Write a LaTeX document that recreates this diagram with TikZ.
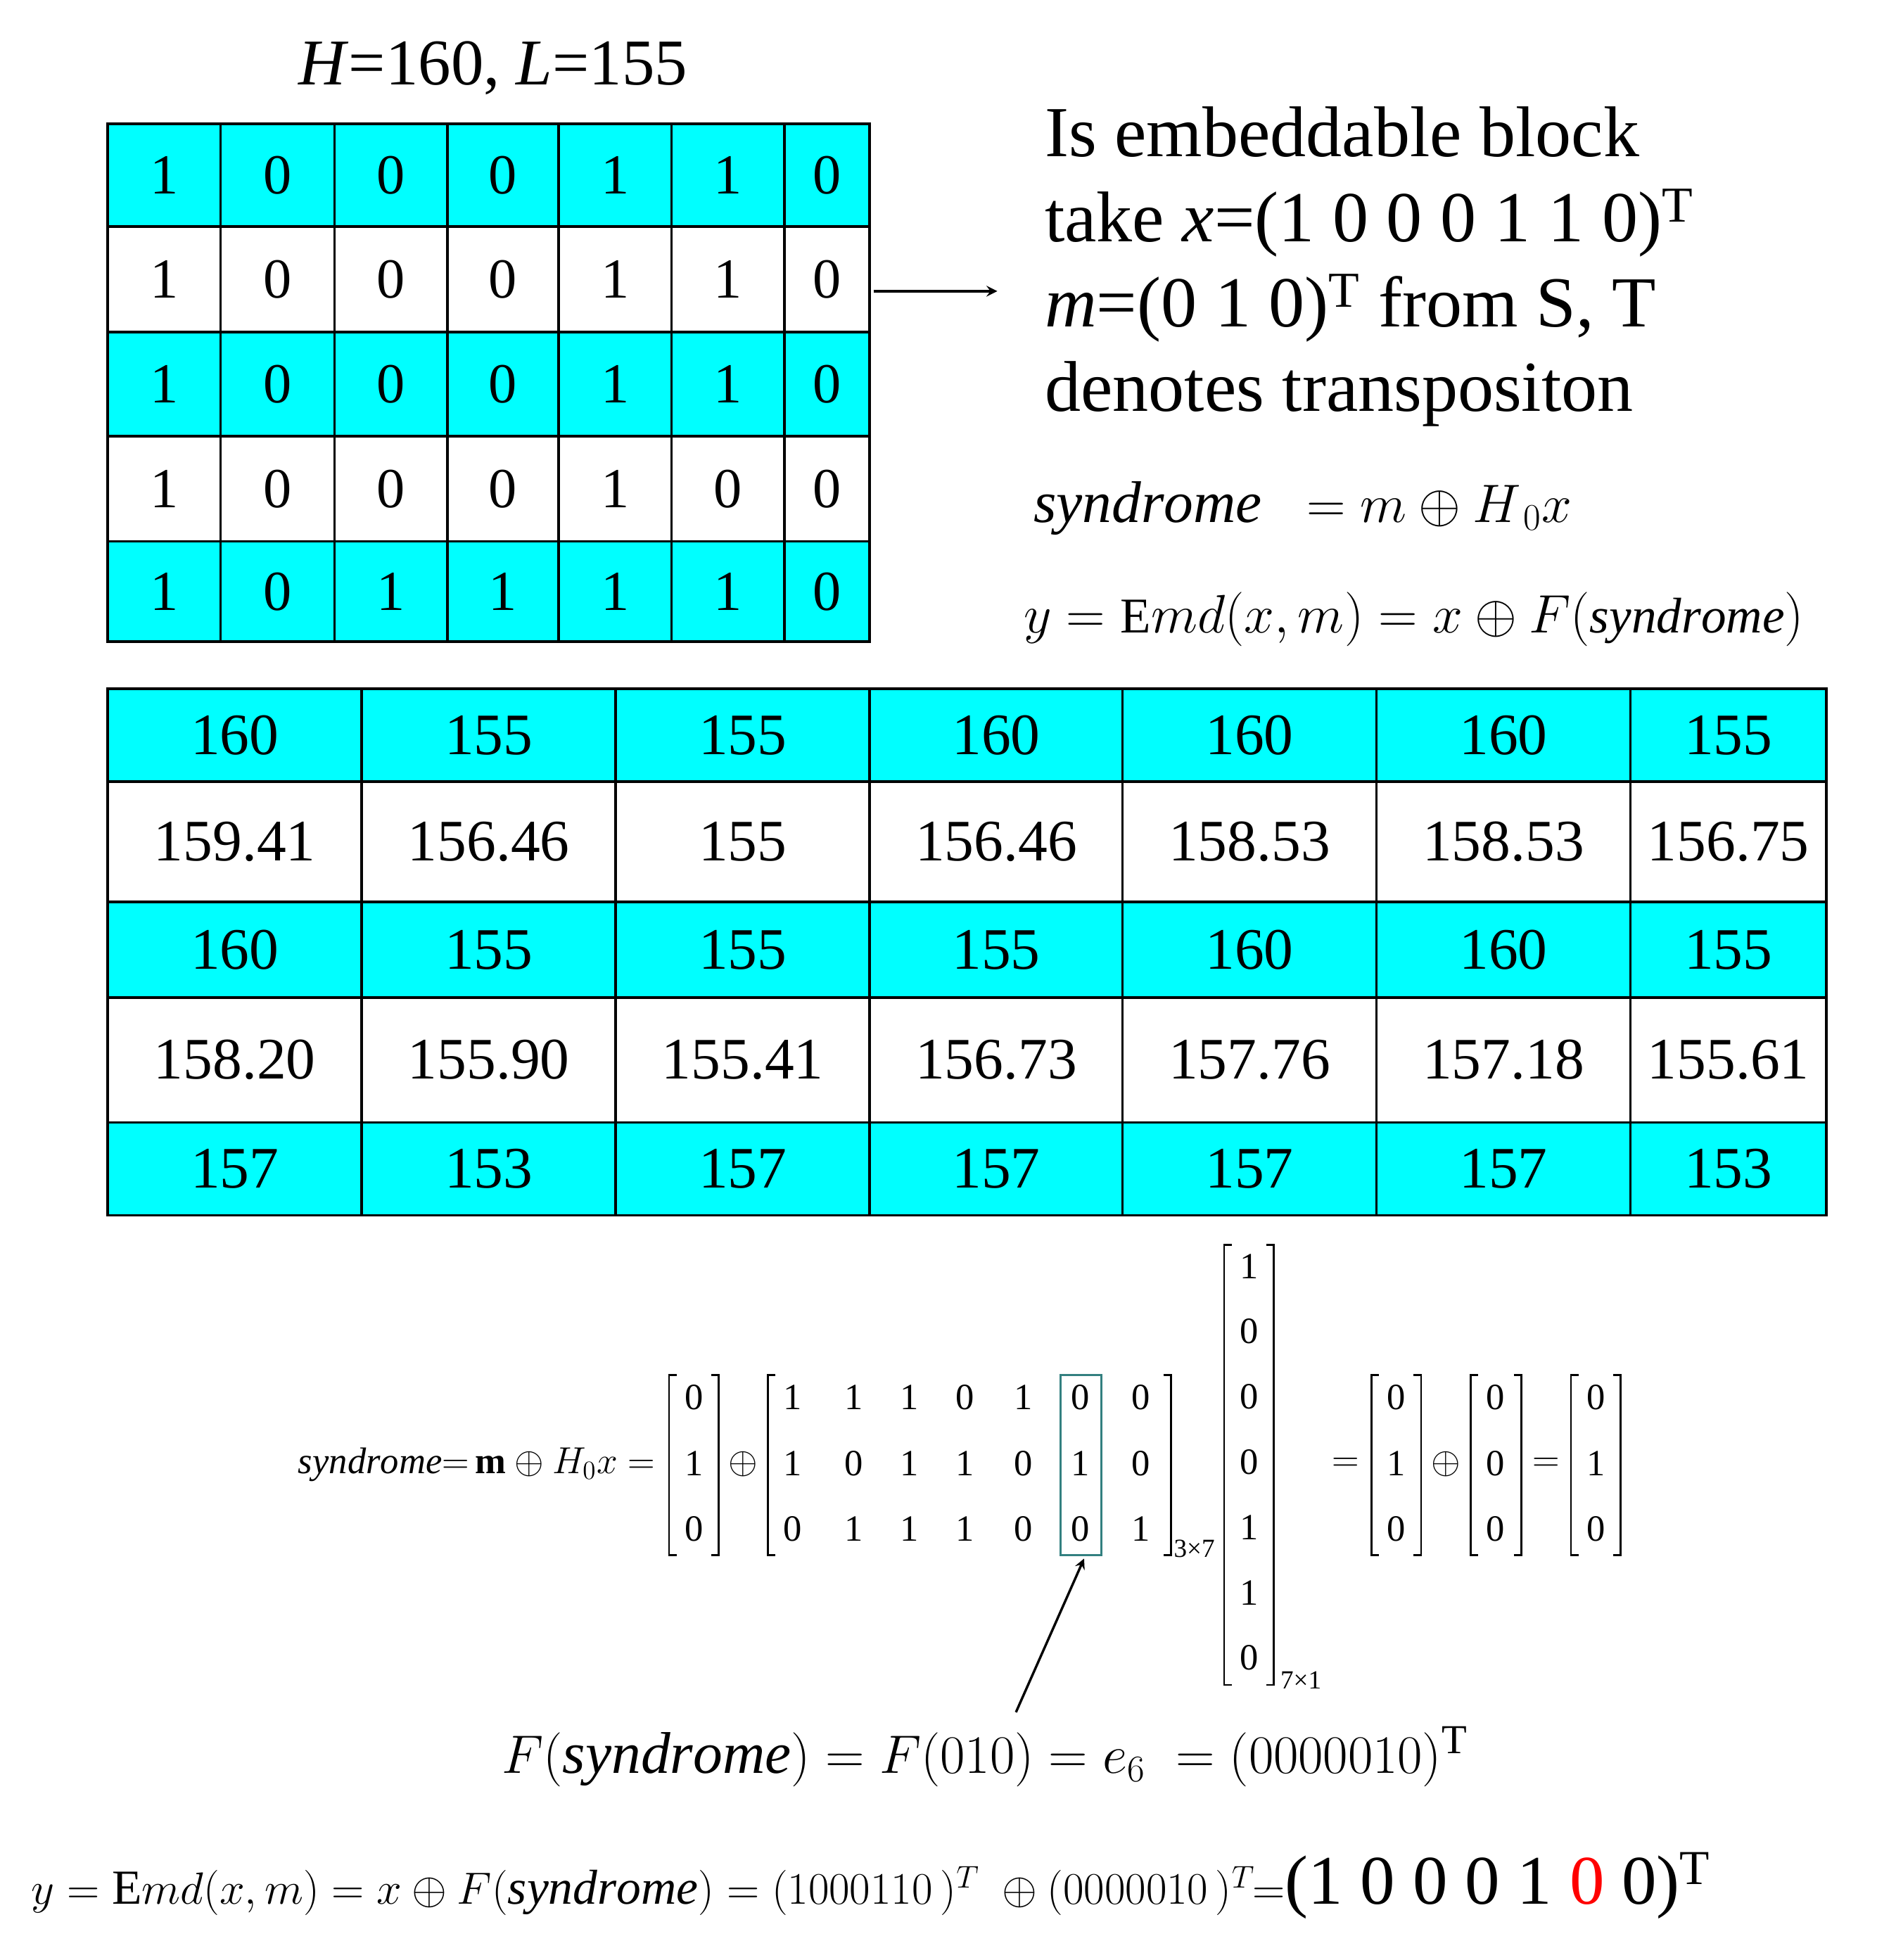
\documentclass[tikz,border=0pt]{standalone}
\usepackage{amsmath}
\usepackage{fontspec}
\setmainfont{Liberation Serif}
\definecolor{aqua}{RGB}{0,255,255}
\begin{document}
\begin{tikzpicture}[x=0.02cm,y=-0.02cm,
  cell/.style={draw=black,line width=1.2pt},
  dg/.style={font=\fontsize{26}{30}\selectfont},
  bd/.style={font=\fontsize{27}{32}\selectfont},
  sm/.style={font=\fontsize{17}{20}\selectfont},
  br/.style={line width=0.9pt}]
\useasboundingbox (0,0) rectangle (1530,1582);
\node[font=\fontsize{30}{36}\selectfont] (title) at (398,55) {\textit{H}=160, \textit{L}=155};
% top grid
\def\xs{{87,178,270,361,451,542,633,702}}
\def\ys{{100,183,268,352,437,518}}
\foreach \r/\vals in {0/{1,0,0,0,1,1,0},1/{1,0,0,0,1,1,0},2/{1,0,0,0,1,1,0},3/{1,0,0,0,1,0,0},4/{1,0,1,1,1,1,0}}{
  \foreach \v [count=\c from 0] in \vals {
    \pgfmathsetmacro\xa{\xs[\c]}\pgfmathsetmacro\xb{\xs[\c+1]}
    \pgfmathsetmacro\ya{\ys[\r]}\pgfmathsetmacro\yb{\ys[\r+1]}
    \pgfmathtruncatemacro\odd{mod(\r,2)}
    \ifnum\odd=0 \fill[aqua] (\xa,\ya) rectangle (\xb,\yb);\fi
    \draw[cell] (\xa,\ya) rectangle (\xb,\yb);
    \node[dg] (g\r\c) at ({(\xa+\xb)/2},{(\ya+\yb)/2}) {\v};
  }}
\coordinate (ga) at (705,235);
\node[anchor=west,inner sep=0] (tx) at (805,235) {};
\draw[->,line width=1.2pt,>=stealth] (ga) -- (tx.west);
\node[anchor=north west,align=left,font=\fontsize{33}{39}\selectfont,inner sep=0] (desc) at (843,86)
 {Is embeddable block\\take \textit{x}=(1 0 0 0 1 1 0)\textsuperscript{T}\\\textit{m}=(0 1 0)\textsuperscript{T} from S, T\\denotes transpositon};
\node[anchor=west,font=\fontsize{27}{30}\selectfont] (syn) at (828,410) {$\mathit{syndrome}\ \ =m\oplus H_{\,0}x$};
\node[anchor=west,font=\fontsize{23}{26}\selectfont] (emd) at (820,500) {$y=\mathrm{E}md(x,m)=x\oplus F(\mathit{syndrome})$};
% big table
\def\Xs{{87,292,497,702,906,1111,1316,1474}}
\def\Ys{{556,631,728,805,906,981}}
\foreach \r/\vals in {0/{160,155,155,160,160,160,155},1/{159.41,156.46,155,156.46,158.53,158.53,156.75},2/{160,155,155,155,160,160,155},3/{158.20,155.90,155.41,156.73,157.76,157.18,155.61},4/{157,153,157,157,157,157,153}}{
  \foreach \v [count=\c from 0] in \vals {
    \pgfmathsetmacro\xa{\Xs[\c]}\pgfmathsetmacro\xb{\Xs[\c+1]}
    \pgfmathsetmacro\ya{\Ys[\r]}\pgfmathsetmacro\yb{\Ys[\r+1]}
    \pgfmathtruncatemacro\odd{mod(\r,2)}
    \ifnum\odd=0 \fill[aqua] (\xa,\ya) rectangle (\xb,\yb);\fi
    \draw[cell] (\xa,\ya) rectangle (\xb,\yb);
    \node[bd] (t\r\c) at ({(\xa+\xb)/2},{(\ya+\yb)/2}) {\v};
  }}
% bottom equation
\node[anchor=east,sm] (lhs) at (535,1182) {$\mathit{syndrome}{=}\,\mathbf{m}\oplus H_0x=$};
\newcommand\brk[4]{% x1 x2 y1 y2
  \draw[br] (#1+6,#3) -- (#1,#3) -- (#1,#4) -- (#1+6,#4);
  \draw[br] (#2-6,#3) -- (#2,#3) -- (#2,#4) -- (#2-6,#4);}
\brk{540}{580}{1110}{1255}
\foreach \v [count=\i from 0] in {0,1,0} \node[sm] (m\i) at (560,{1128+\i*53}) {\v};
\node[sm] (op1) at (600,1182) {$\oplus$};
\brk{620}{945}{1110}{1255}
\def\Hx{{640,689,734,779,826,872,921}}
\foreach \r/\vals in {0/{1,1,1,0,1,0,0},1/{1,0,1,1,0,1,0},2/{0,1,1,1,0,0,1}}{
  \foreach \v [count=\c from 0] in \vals {
    \pgfmathsetmacro\hx{\Hx[\c]}
    \node[sm] (h\r\c) at (\hx,{1128+\r*53}) {\v};}}
\draw[teal!60!gray,line width=1pt] (856,1110) rectangle (889,1255);
\node[font=\fontsize{12}{14}\selectfont] (s37) at (964,1250) {3×7};
\brk{988}{1028}{1005}{1360}
\foreach \v [count=\i from 0] in {1,0,0,0,1,1,0} \node[sm] (x\i) at (1008,{1022+\i*52.7}) {\v};
\node[font=\fontsize{12}{14}\selectfont] (s71) at (1050,1356) {7×1};
\node[sm] (eq1) at (1086,1182) {$=$};
\brk{1107}{1147}{1110}{1255}
\foreach \v [count=\i from 0] in {0,1,0} \node[sm] (a\i) at (1127,{1128+\i*53}) {\v};
\node[sm] (op2) at (1167,1182) {$\oplus$};
\brk{1187}{1228}{1110}{1255}
\foreach \v [count=\i from 0] in {0,0,0} \node[sm] (b\i) at (1207,{1128+\i*53}) {\v};
\node[sm] (eq2) at (1248,1182) {$=$};
\brk{1268}{1308}{1110}{1255}
\foreach \v [count=\i from 0] in {0,1,0} \node[sm] (c\i) at (1288,{1128+\i*53}) {\v};
\coordinate (arr) at (820,1382);
\draw[->,line width=1.1pt,>=stealth] (arr) -- (875,1258);
\node[font=\fontsize{27}{32}\selectfont] (Fl) at (795,1418) {$F(\mathit{syndrome})=F(010)=e_6\ =(0000010)^{\mathrm{T}}$};
\node[anchor=west,inner sep=0,font=\fontsize{22.5}{28}\selectfont] (yl) at (25,1522)
 {$y=\mathrm{E}md(x,m)=x\oplus F(\mathit{syndrome})=(1000110\,)^T\;\oplus(0000010\,)^T\!\!=$\fontsize{32}{36}\selectfont(1 0 0 0 1 \textcolor{red}{0} 0)\textsuperscript{T}};
\end{tikzpicture}
\end{document}
